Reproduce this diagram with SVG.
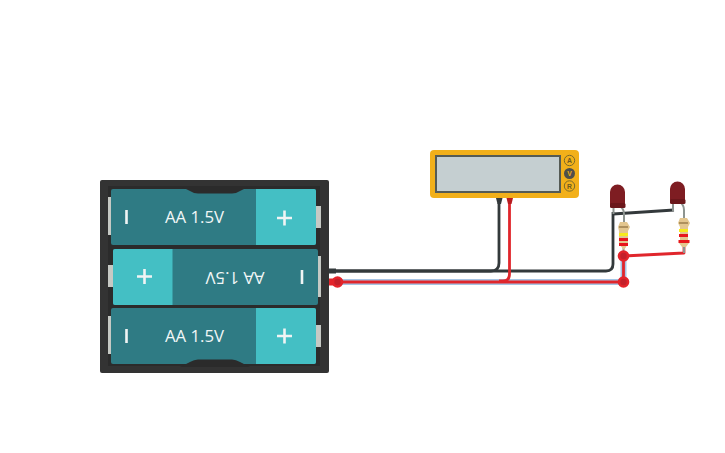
<svg xmlns="http://www.w3.org/2000/svg" width="725" height="453" viewBox="0 0 725 453">
<defs>
<style>
.cell{fill:#2f7b84}.cap{fill:#44bfc4}.term{fill:#c6c9c4}
.lbl{font-family:"Open Sans","Noto Sans",sans-serif;font-size:16.800px;fill:#f2f7f7;text-anchor:middle}
.mark{stroke:#f0f4f4;stroke-width:2.6;fill:none}
.blk{fill:none;stroke:#33393b;stroke-width:2.800;stroke-linejoin:round}
.red{fill:none;stroke:#e0262c;stroke-width:2.800;stroke-linejoin:round}
.halo{fill:none;stroke:#a6c4e4;stroke-width:6;stroke-linejoin:round}
.pad{fill:#e3242b}.padi{fill:#c4202a}
.led{fill:#7e1d22}.ledr{fill:#6b171b}
.lead{fill:none;stroke:#8d9490;stroke-width:2}
.body{fill:#e3c68f}
.rb{fill:#e8161c}.yb{fill:#f7ea1c}.tb{fill:#7a5b2c}
.rt{font-family:"Liberation Sans",sans-serif;font-size:6.800px;font-weight:bold;fill:#6d5a22;text-anchor:middle}
</style>
</defs>
<g id="connectors">
<path class="halo" d="M337 282H618Q623.500 282 623.500 276V256"/>
<path class="red" d="M330 282H618Q623.500 282 623.500 276V256"/>
<path class="blk" d="M336 271H606Q613 271 613 264V212"/>
<path class="blk" d="M336 271H491Q499 271 499 263V203"/>
<path class="red" d="M499 281H503Q509.500 281 509.500 274V203"/>
<path class="red" d="M623.500 256L684 253V245"/>
<path class="blk" d="M613 214L674 210"/>
</g>
<g id="battery">
<rect x="100" y="180" width="229" height="193" rx="2" fill="#333333"/>
<rect x="108" y="186" width="212" height="180" fill="#2b2b2b"/>
<rect x="108" y="197" width="3" height="38" class="term"/>
<rect x="316" y="206" width="5" height="22" class="term"/>
<rect x="108" y="265" width="5" height="22" class="term"/>
<rect x="318" y="256" width="3" height="41" class="term"/>
<rect x="108" y="316" width="3" height="38" class="term"/>
<rect x="316" y="325" width="5" height="22" class="term"/>
<g id="cell1">
<rect x="111" y="189" width="205" height="56" rx="2" class="cell"/>
<path d="M256 189H314a2 2 0 0 1 2 2V243a2 2 0 0 1-2 2H256Z" class="cap"/>
<path d="M180 186H250L240 191Q236 193.500 232 193.500H198Q194 193.500 190 191Z" fill="#2b2b2b"/>
<path class="mark" d="M126.500 210V224M277 218H292M284.500 210.500V225.500"/>
<text class="lbl" x="194.500" y="223">AA 1.5V</text>
</g>
<g id="cell2">
<rect x="113" y="249" width="205" height="56" rx="2" class="cell"/>
<path d="M172.500 249H115a2 2 0 0 0-2 2V303a2 2 0 0 0 2 2H172.500Z" class="cap"/>
<path class="mark" d="M302 270V284M137 276.500H152M144.500 269V284"/>
<text class="lbl" x="235" y="281.500" transform="rotate(180 235 276.500)">AA 1.5V</text>
</g>
<g id="cell3">
<rect x="111" y="308" width="205" height="56" rx="2" class="cell"/>
<path d="M256 308H314a2 2 0 0 1 2 2V362a2 2 0 0 1-2 2H256Z" class="cap"/>
<path d="M180 367H250L240 362Q236 359.500 232 359.500H198Q194 359.500 190 362Z" fill="#2b2b2b"/>
<path class="mark" d="M126.500 329V343M277 336H292M284.500 328.500V343.500"/>
<text class="lbl" x="194.500" y="341.500">AA 1.5V</text>
</g>
<rect x="329" y="268.500" width="7" height="5" fill="#33393b"/>
<rect x="329" y="278.500" width="8" height="7" fill="#e3242b"/>
<circle cx="337.500" cy="282" r="5.800" class="pad"/><circle cx="337.500" cy="282" r="3.200" class="padi"/>
</g>
<g id="multimeter">
<rect x="430" y="150" width="149" height="48" rx="4" fill="#f2b01a"/>
<rect x="436" y="156" width="124" height="36" fill="#c5cfd1" stroke="#555b55" stroke-width="2"/>
<circle cx="569.500" cy="160.500" r="5.200" fill="none" stroke="#7b6b2a" stroke-width="1"/>
<circle cx="569.500" cy="173.500" r="5.500" fill="#50504a"/>
<circle cx="569.500" cy="186" r="5.200" fill="none" stroke="#7b6b2a" stroke-width="1"/>
<text class="rt" x="569.500" y="163">A</text>
<text class="rt" x="569.500" y="176" style="fill:#f2b01a">V</text>
<text class="rt" x="569.500" y="188.500">R</text>
<path d="M496 198H502.500L501 204H497.500Z" fill="#33393b"/>
<path d="M506.500 198H513L511.500 204H508Z" fill="#b81c20"/>
</g>
<g id="led1">
<path class="lead" d="M613.500 206V214M620 206Q624 209 624 214V224"/>
<path class="led" d="M610 205V192a7.500 7.500 0 0 1 15 0V205Z"/>
<rect x="610" y="203" width="15.500" height="5" rx="1.500" class="ledr"/>
</g>
<g id="led2">
<path class="lead" d="M673 202V211M680 202Q684 205 684 210V220"/>
<path class="led" d="M670 201V189a7.500 7.500 0 0 1 15 0V201Z"/>
<rect x="670" y="199" width="15.500" height="5" rx="1.500" class="ledr"/>
</g>
<g id="res1">
<path class="lead" d="M623.500 248V254"/>
<path class="body" d="M620 222H627L630 227L628 231V244L624 250L619 244V231L618 227Z"/>
<rect x="619" y="233" width="9" height="3" class="yb"/>
<rect x="619" y="238" width="9" height="3" class="rb"/>
<rect x="619" y="243" width="9" height="3" class="rb"/>
<rect x="619" y="226.500" width="9" height="1" class="tb"/>
</g>
<g id="res2">
<path class="lead" d="M684 244V253"/>
<path class="body" d="M680 218H687L690 223L688 227V240L689 243L686 247H682L679 243L680 240V227L678 223Z"/>
<rect x="679" y="229" width="9" height="3" class="yb"/>
<rect x="679" y="234" width="9" height="3" class="rb"/>
<rect x="678.500" y="240" width="11" height="3" class="rb"/>
<rect x="679" y="222.500" width="9" height="1" class="tb"/>
</g>
<g id="junctions">
<circle cx="623.500" cy="256" r="5.800" class="pad"/><circle cx="623.500" cy="256" r="3.200" class="padi"/>
<circle cx="623.500" cy="282" r="5.800" class="pad"/><circle cx="623.500" cy="282" r="3.200" class="padi"/>
</g>
</svg>
